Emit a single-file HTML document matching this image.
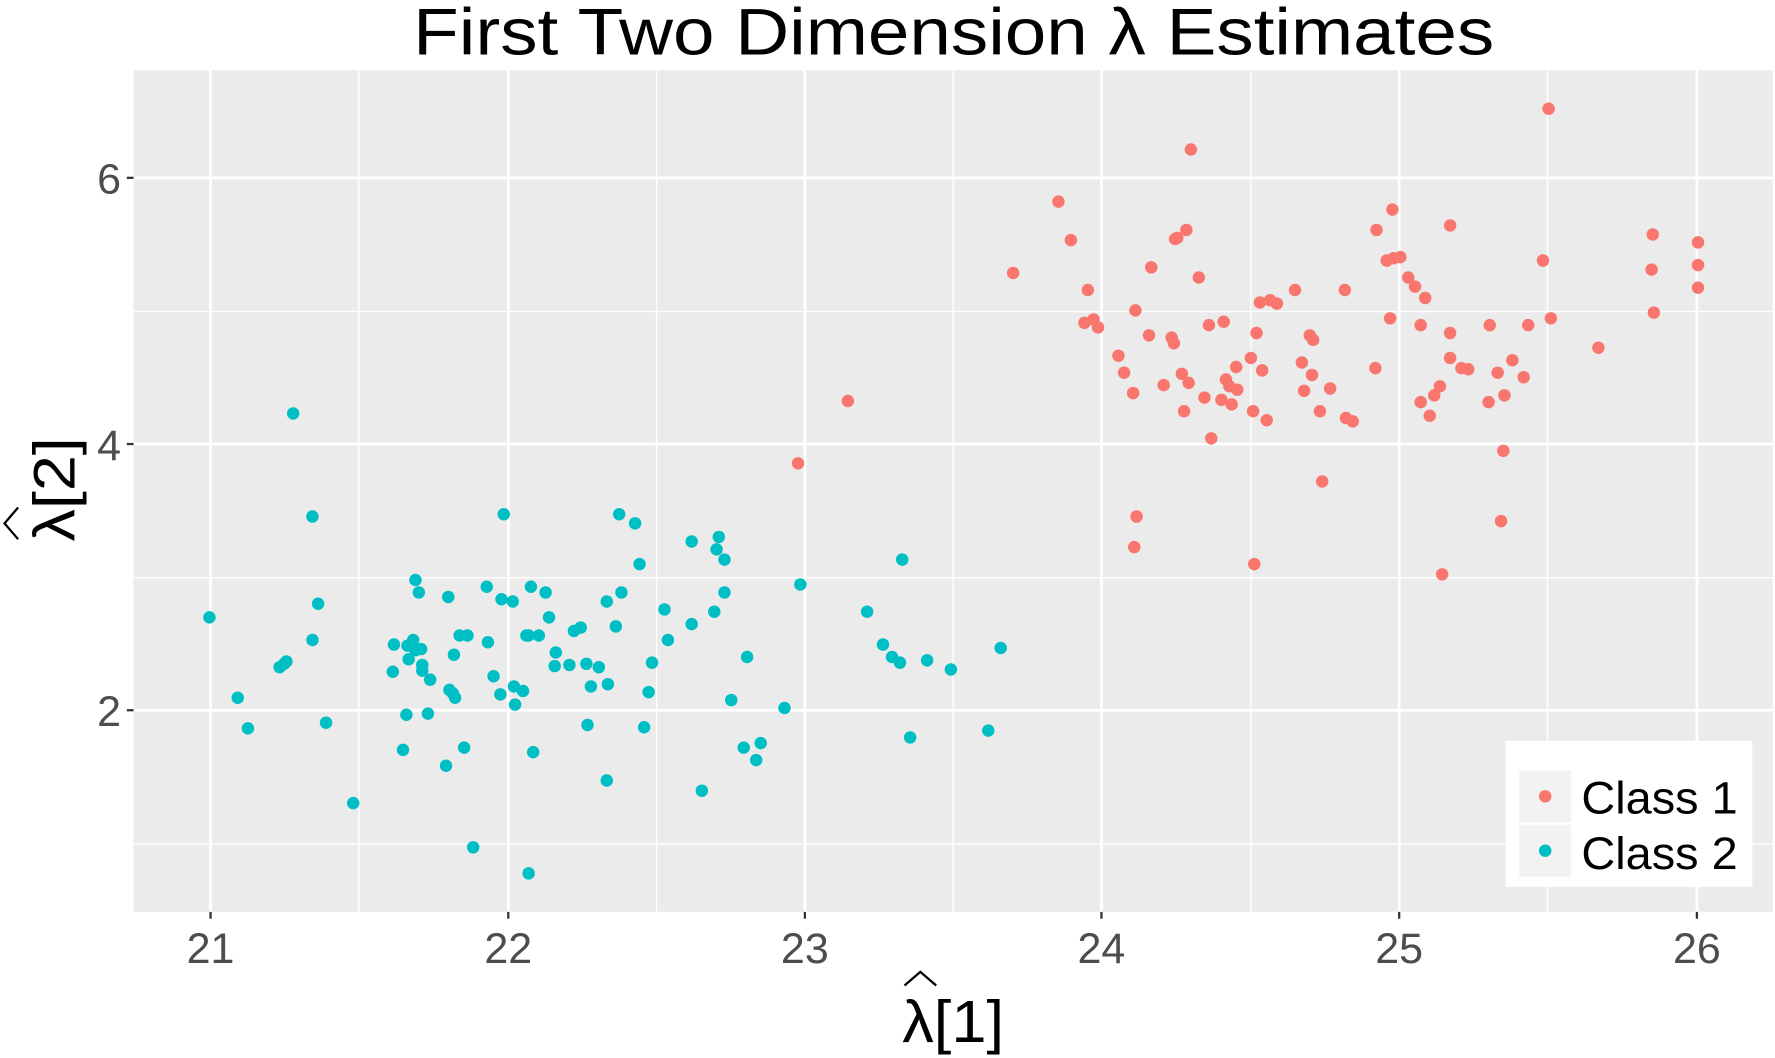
<!DOCTYPE html>
<html><head><meta charset="utf-8"><style>html,body{margin:0;padding:0;background:#fff;}svg{display:block;}</style></head>
<body>
<svg width="1775" height="1058" viewBox="0 0 1568 934" preserveAspectRatio="none" xmlns="http://www.w3.org/2000/svg" font-family="Liberation Sans, sans-serif">
<rect width="1568" height="934" fill="#fff"/>
<rect x="118" y="62" width="1448" height="743" fill="#ebebeb"/>
<g stroke="#fff" stroke-width="1.2">
<line x1="118" x2="1566" y1="745" y2="745"/><line x1="118" x2="1566" y1="510" y2="510"/><line x1="118" x2="1566" y1="275" y2="275"/>
<line y1="62" y2="805" x1="317" x2="317"/><line y1="62" y2="805" x1="580" x2="580"/><line y1="62" y2="805" x1="842" x2="842"/><line y1="62" y2="805" x1="1105" x2="1105"/><line y1="62" y2="805" x1="1367" x2="1367"/>
</g>
<g stroke="#fff" stroke-width="2.4">
<line x1="118" x2="1566" y1="627" y2="627"/><line x1="118" x2="1566" y1="392" y2="392"/><line x1="118" x2="1566" y1="157" y2="157"/>
<line y1="62" y2="805" x1="186" x2="186"/><line y1="62" y2="805" x1="449" x2="449"/><line y1="62" y2="805" x1="711" x2="711"/><line y1="62" y2="805" x1="973" x2="973"/><line y1="62" y2="805" x1="1236" x2="1236"/><line y1="62" y2="805" x1="1499" x2="1499"/>
</g>
<g stroke="#333" stroke-width="2">
<line x1="112" x2="118" y1="627" y2="627"/><line x1="112" x2="118" y1="392" y2="392"/><line x1="112" x2="118" y1="157" y2="157"/>
<line y1="805" y2="811" x1="186" x2="186"/><line y1="805" y2="811" x1="449" x2="449"/><line y1="805" y2="811" x1="711" x2="711"/><line y1="805" y2="811" x1="973" x2="973"/><line y1="805" y2="811" x1="1236" x2="1236"/><line y1="805" y2="811" x1="1499" x2="1499"/>
</g>
<g fill="#4d4d4d" font-size="38" text-anchor="end">
<text x="107" y="641">2</text><text x="107" y="406">4</text><text x="107" y="171">6</text>
</g>
<g fill="#4d4d4d" font-size="38" text-anchor="middle">
<text x="186" y="850">21</text><text x="449" y="850">22</text><text x="711" y="850">23</text><text x="973" y="850">24</text><text x="1236" y="850">25</text><text x="1499" y="850">26</text>
</g>
<text x="365" y="48" font-size="58" textLength="955" lengthAdjust="spacingAndGlyphs" fill="#000">First Two Dimension λ Estimates</text>
<text x="797" y="920" font-size="52" textLength="90" lengthAdjust="spacingAndGlyphs" fill="#000">λ[1]</text>
<path d="M799,870 L813,858 L827,870" stroke="#000" stroke-width="2" fill="none"/>
<g transform="translate(66,432) rotate(-90)">
<text x="-46" y="0" font-size="52" textLength="92" lengthAdjust="spacingAndGlyphs" fill="#000">λ[2]</text>
<path d="M-44,-50 L-30,-62 L-16,-50" stroke="#000" stroke-width="2" fill="none"/>
</g>
<g fill="#F8766D">
<circle cx="1368" cy="96" r="5.5"/><circle cx="1052" cy="132" r="5.5"/><circle cx="935" cy="178" r="5.5"/><circle cx="946" cy="212" r="5.5"/><circle cx="1216" cy="203" r="5.5"/><circle cx="1230" cy="185" r="5.5"/><circle cx="1281" cy="199" r="5.5"/><circle cx="1038" cy="211" r="5.5"/><circle cx="1048" cy="203" r="5.5"/><circle cx="1040" cy="210" r="5.5"/><circle cx="1460" cy="207" r="5.5"/><circle cx="1500" cy="214" r="5.5"/><circle cx="895" cy="241" r="5.5"/><circle cx="1017" cy="236" r="5.5"/><circle cx="1059" cy="245" r="5.5"/><circle cx="1225" cy="230" r="5.5"/><circle cx="1231" cy="228" r="5.5"/><circle cx="1237" cy="227" r="5.5"/><circle cx="1363" cy="230" r="5.5"/><circle cx="1459" cy="238" r="5.5"/><circle cx="1500" cy="234" r="5.5"/><circle cx="961" cy="256" r="5.5"/><circle cx="1244" cy="245" r="5.5"/><circle cx="1250" cy="253" r="5.5"/><circle cx="1259" cy="263" r="5.5"/><circle cx="1144" cy="256" r="5.5"/><circle cx="1188" cy="256" r="5.5"/><circle cx="1500" cy="254" r="5.5"/><circle cx="1113" cy="267" r="5.5"/><circle cx="1122" cy="265" r="5.5"/><circle cx="1128" cy="268" r="5.5"/><circle cx="1003" cy="274" r="5.5"/><circle cx="958" cy="285" r="5.5"/><circle cx="966" cy="282" r="5.5"/><circle cx="970" cy="289" r="5.5"/><circle cx="1228" cy="281" r="5.5"/><circle cx="1255" cy="287" r="5.5"/><circle cx="1370" cy="281" r="5.5"/><circle cx="1461" cy="276" r="5.5"/><circle cx="1068" cy="287" r="5.5"/><circle cx="1081" cy="284" r="5.5"/><circle cx="1110" cy="294" r="5.5"/><circle cx="1157" cy="296" r="5.5"/><circle cx="1160" cy="300" r="5.5"/><circle cx="1015" cy="296" r="5.5"/><circle cx="1035" cy="298" r="5.5"/><circle cx="1037" cy="303" r="5.5"/><circle cx="1281" cy="294" r="5.5"/><circle cx="1316" cy="287" r="5.5"/><circle cx="1350" cy="287" r="5.5"/><circle cx="1412" cy="307" r="5.5"/><circle cx="988" cy="314" r="5.5"/><circle cx="1105" cy="316" r="5.5"/><circle cx="1150" cy="320" r="5.5"/><circle cx="1281" cy="316" r="5.5"/><circle cx="1336" cy="318" r="5.5"/><circle cx="1291" cy="325" r="5.5"/><circle cx="1297" cy="326" r="5.5"/><circle cx="993" cy="329" r="5.5"/><circle cx="1044" cy="330" r="5.5"/><circle cx="1050" cy="338" r="5.5"/><circle cx="1092" cy="324" r="5.5"/><circle cx="1115" cy="327" r="5.5"/><circle cx="1159" cy="331" r="5.5"/><circle cx="1215" cy="325" r="5.5"/><circle cx="1323" cy="329" r="5.5"/><circle cx="1346" cy="333" r="5.5"/><circle cx="1028" cy="340" r="5.5"/><circle cx="1083" cy="335" r="5.5"/><circle cx="1086" cy="341" r="5.5"/><circle cx="1093" cy="344" r="5.5"/><circle cx="1001" cy="347" r="5.5"/><circle cx="1175" cy="343" r="5.5"/><circle cx="1152" cy="345" r="5.5"/><circle cx="1064" cy="351" r="5.5"/><circle cx="1079" cy="353" r="5.5"/><circle cx="1088" cy="357" r="5.5"/><circle cx="1272" cy="341" r="5.5"/><circle cx="1267" cy="349" r="5.5"/><circle cx="1255" cy="355" r="5.5"/><circle cx="1315" cy="355" r="5.5"/><circle cx="1329" cy="349" r="5.5"/><circle cx="1046" cy="363" r="5.5"/><circle cx="1107" cy="363" r="5.5"/><circle cx="1166" cy="363" r="5.5"/><circle cx="1119" cy="371" r="5.5"/><circle cx="1263" cy="367" r="5.5"/><circle cx="1189" cy="369" r="5.5"/><circle cx="1195" cy="372" r="5.5"/><circle cx="749" cy="354" r="5.5"/><circle cx="1070" cy="387" r="5.5"/><circle cx="1328" cy="398" r="5.5"/><circle cx="705" cy="409" r="5.5"/><circle cx="1168" cy="425" r="5.5"/><circle cx="1004" cy="456" r="5.5"/><circle cx="1326" cy="460" r="5.5"/><circle cx="1002" cy="483" r="5.5"/><circle cx="1108" cy="498" r="5.5"/><circle cx="1274" cy="507" r="5.5"/>
</g>
<g fill="#00BFC4">
<circle cx="259" cy="365" r="5.5"/><circle cx="276" cy="456" r="5.5"/><circle cx="445" cy="454" r="5.5"/><circle cx="547" cy="454" r="5.5"/><circle cx="561" cy="462" r="5.5"/><circle cx="611" cy="478" r="5.5"/><circle cx="635" cy="474" r="5.5"/><circle cx="633" cy="485" r="5.5"/><circle cx="640" cy="494" r="5.5"/><circle cx="797" cy="494" r="5.5"/><circle cx="565" cy="498" r="5.5"/><circle cx="367" cy="512" r="5.5"/><circle cx="370" cy="523" r="5.5"/><circle cx="281" cy="533" r="5.5"/><circle cx="185" cy="545" r="5.5"/><circle cx="430" cy="518" r="5.5"/><circle cx="443" cy="529" r="5.5"/><circle cx="453" cy="531" r="5.5"/><circle cx="469" cy="518" r="5.5"/><circle cx="482" cy="523" r="5.5"/><circle cx="707" cy="516" r="5.5"/><circle cx="640" cy="523" r="5.5"/><circle cx="549" cy="523" r="5.5"/><circle cx="396" cy="527" r="5.5"/><circle cx="536" cy="531" r="5.5"/><circle cx="544" cy="553" r="5.5"/><circle cx="485" cy="545" r="5.5"/><circle cx="413" cy="561" r="5.5"/><circle cx="406" cy="561" r="5.5"/><circle cx="467" cy="561" r="5.5"/><circle cx="465" cy="561" r="5.5"/><circle cx="476" cy="561" r="5.5"/><circle cx="766" cy="540" r="5.5"/><circle cx="631" cy="540" r="5.5"/><circle cx="587" cy="538" r="5.5"/><circle cx="611" cy="551" r="5.5"/><circle cx="507" cy="557" r="5.5"/><circle cx="513" cy="554" r="5.5"/><circle cx="276" cy="565" r="5.5"/><circle cx="590" cy="565" r="5.5"/><circle cx="348" cy="569" r="5.5"/><circle cx="360" cy="570" r="5.5"/><circle cx="365" cy="565" r="5.5"/><circle cx="367" cy="574" r="5.5"/><circle cx="372" cy="573" r="5.5"/><circle cx="431" cy="567" r="5.5"/><circle cx="401" cy="578" r="5.5"/><circle cx="491" cy="576" r="5.5"/><circle cx="780" cy="569" r="5.5"/><circle cx="884" cy="572" r="5.5"/><circle cx="361" cy="582" r="5.5"/><circle cx="373" cy="587" r="5.5"/><circle cx="373" cy="592" r="5.5"/><circle cx="490" cy="588" r="5.5"/><circle cx="503" cy="587" r="5.5"/><circle cx="518" cy="586" r="5.5"/><circle cx="529" cy="589" r="5.5"/><circle cx="576" cy="585" r="5.5"/><circle cx="660" cy="580" r="5.5"/><circle cx="788" cy="580" r="5.5"/><circle cx="795" cy="585" r="5.5"/><circle cx="819" cy="583" r="5.5"/><circle cx="840" cy="591" r="5.5"/><circle cx="251" cy="586" r="5.5"/><circle cx="247" cy="589" r="5.5"/><circle cx="347" cy="593" r="5.5"/><circle cx="380" cy="600" r="5.5"/><circle cx="253" cy="584" r="5.5"/><circle cx="436" cy="597" r="5.5"/><circle cx="397" cy="609" r="5.5"/><circle cx="400" cy="612" r="5.5"/><circle cx="402" cy="616" r="5.5"/><circle cx="442" cy="613" r="5.5"/><circle cx="454" cy="606" r="5.5"/><circle cx="462" cy="610" r="5.5"/><circle cx="522" cy="606" r="5.5"/><circle cx="537" cy="604" r="5.5"/><circle cx="573" cy="611" r="5.5"/><circle cx="210" cy="616" r="5.5"/><circle cx="646" cy="618" r="5.5"/><circle cx="359" cy="631" r="5.5"/><circle cx="378" cy="630" r="5.5"/><circle cx="455" cy="622" r="5.5"/><circle cx="693" cy="625" r="5.5"/><circle cx="219" cy="643" r="5.5"/><circle cx="288" cy="638" r="5.5"/><circle cx="519" cy="640" r="5.5"/><circle cx="569" cy="642" r="5.5"/><circle cx="804" cy="651" r="5.5"/><circle cx="873" cy="645" r="5.5"/><circle cx="356" cy="662" r="5.5"/><circle cx="410" cy="660" r="5.5"/><circle cx="471" cy="664" r="5.5"/><circle cx="657" cy="660" r="5.5"/><circle cx="672" cy="656" r="5.5"/><circle cx="668" cy="671" r="5.5"/><circle cx="394" cy="676" r="5.5"/><circle cx="536" cy="689" r="5.5"/><circle cx="620" cy="698" r="5.5"/><circle cx="312" cy="709" r="5.5"/><circle cx="418" cy="748" r="5.5"/><circle cx="467" cy="771" r="5.5"/>
</g>
<rect x="1330" y="654" width="218" height="129" fill="#fff"/>
<rect x="1342" y="680" width="46" height="46" fill="#f2f2f2"/>
<rect x="1342" y="728" width="46" height="46" fill="#f2f2f2"/>
<circle cx="1365" cy="703" r="5.5" fill="#F8766D"/>
<circle cx="1365" cy="751" r="5.5" fill="#00BFC4"/>
<text x="1397" y="718" font-size="40" textLength="138" lengthAdjust="spacingAndGlyphs" fill="#000">Class 1</text>
<text x="1397" y="767" font-size="40" textLength="138" lengthAdjust="spacingAndGlyphs" fill="#000">Class 2</text>
</svg>
</body></html>
